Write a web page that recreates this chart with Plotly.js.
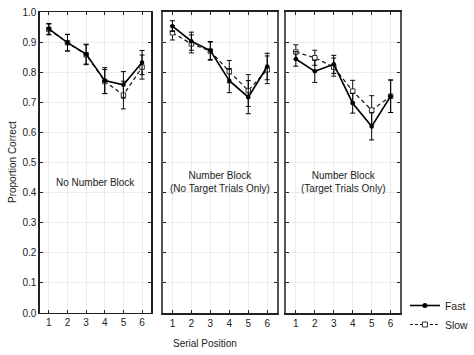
<!DOCTYPE html>
<html>
<head>
<meta charset="utf-8">
<script src="https://cdn.plot.ly/plotly-3.0.1.min.js"></script>
<style>html,body{margin:0;padding:0;background:#fff;}#chart{width:474px;height:355px;}</style>
</head>
<body>
<div id="chart"></div>
<script>
const positions = [1, 2, 3, 4, 5, 6];
const tickLabels = ["1", "2", "3", "4", "5", "6"];
const panelTitles = ["No Number Block", "Number Block<br>(No Target Trials Only)", "Number Block<br>(Target Trials Only)"];

const fastNoNumber = [0.944, 0.898, 0.860, 0.772, 0.758, 0.832];
const fastNoNumberErr = [0.018, 0.027, 0.033, 0.043, 0.044, 0.040];
const slowNoNumber = [0.942, 0.898, 0.858, 0.769, 0.724, 0.817];
const slowNoNumberErr = [0.018, 0.028, 0.033, 0.040, 0.046, 0.040];

const fastNoTarget = [0.953, 0.903, 0.872, 0.772, 0.717, 0.819];
const fastNoTargetErr = [0.018, 0.030, 0.030, 0.040, 0.055, 0.044];
const slowNoTarget = [0.931, 0.894, 0.870, 0.802, 0.739, 0.808];
const slowNoTargetErr = [0.024, 0.030, 0.030, 0.037, 0.053, 0.046];

const fastTarget = [0.844, 0.803, 0.826, 0.697, 0.620, 0.720];
const fastTargetErr = [0.024, 0.037, 0.030, 0.033, 0.045, 0.054];
const slowTarget = [0.867, 0.848, 0.817, 0.737, 0.674, 0.720];
const slowTargetErr = [0.024, 0.025, 0.030, 0.036, 0.048, 0.054];

const fastSeries = [[fastNoNumber, fastNoNumberErr], [fastNoTarget, fastNoTargetErr], [fastTarget, fastTargetErr]];
const slowSeries = [[slowNoNumber, slowNoNumberErr], [slowNoTarget, slowNoTargetErr], [slowTarget, slowTargetErr]];

const W = 474, H = 355;
const panelPx = [[41, 157], [169, 287], [297, 415]];
const topPx = 12, botPx = 313;
const yDom = [(H - botPx) / H, (H - topPx) / H];
const FONT = "Liberation Sans, Arial, sans-serif";
const txt = "#222";

const traces = [];
const layout = {
  width: W, height: H,
  margin: {l: 0, r: 0, t: 0, b: 0},
  paper_bgcolor: "#fff", plot_bgcolor: "#fff",
  font: {family: FONT, size: 10, color: txt},
  showlegend: true,
  legend: {x: 420 / W, y: (H - 291) / H, xanchor: "left", yanchor: "top",
           font: {family: FONT, size: 10.5, color: txt}, bgcolor: "rgba(0,0,0,0)",
           itemwidth: 30, tracegroupgap: 0},
  annotations: [],
  shapes: []
};

for (let p = 0; p < 3; p++) {
  const sfx = p === 0 ? "" : String(p + 1);
  const xa = "x" + sfx, ya = "y" + sfx;
  const [fy, fe] = fastSeries[p];
  const [sy, se] = slowSeries[p];
  traces.push({
    x: positions, y: sy, xaxis: xa, yaxis: ya, type: "scatter", mode: "lines+markers",
    name: "Slow", showlegend: false, legendgroup: "slow",
    line: {color: "#111", width: 1.2, dash: "4px,3px"},
    marker: {symbol: "square", size: 4.5, color: "#fff", line: {color: "#333", width: 1}},
    error_y: {type: "data", array: se, visible: true, color: "#111", thickness: 1, width: 2.5}
  });
  traces.push({
    x: positions, y: fy, xaxis: xa, yaxis: ya, type: "scatter", mode: "lines+markers",
    name: "Fast", showlegend: false, legendgroup: "fast",
    line: {color: "#000", width: 1.6},
    marker: {symbol: "circle", size: 4.5, color: "#000"},
    error_y: {type: "data", array: fe, visible: true, color: "#000", thickness: 1, width: 2.5}
  });
  layout["xaxis" + sfx] = {
    domain: [panelPx[p][0] / W, panelPx[p][1] / W], anchor: ya,
    range: [0.5, 6.5], tickvals: positions, ticktext: tickLabels,
    showgrid: true, gridcolor: "#ececec", gridwidth: 1, zeroline: false,
    showline: true, linecolor: "#222", linewidth: p === 0 ? 1.2 : 1.6, mirror: "ticks",
    ticks: "inside", ticklen: 3, tickcolor: "#222",
    tickfont: {family: FONT, size: 10, color: txt}, fixedrange: true
  };
  layout["yaxis" + sfx] = {
    domain: yDom, anchor: xa, range: [0, 1],
    tickvals: [0, 0.1, 0.2, 0.3, 0.4, 0.5, 0.6, 0.7, 0.8, 0.9, 1.0],
    tickformat: ".1f", showticklabels: p === 0,
    showgrid: true, gridcolor: "#ececec", gridwidth: 1, zeroline: false,
    showline: true, linecolor: p === 0 ? "#222" : "#555", linewidth: p === 0 ? 1.2 : 2, mirror: "ticks",
    ticks: "inside", ticklen: 3, tickcolor: "#222",
    tickfont: {family: FONT, size: 10, color: txt}, fixedrange: true
  };
  layout.annotations.push({
    xref: xa, yref: ya, x: 3.5, y: 0.435, text: panelTitles[p], showarrow: false,
    xanchor: "center", yanchor: "middle", align: "center",
    font: {family: FONT, size: 10, color: txt}
  });
}

// legend entries (legend-only pair of traces)
traces.push({x: [null], y: [null], type: "scatter", mode: "lines+markers", name: "Fast",
  legendgroup: "fast", line: {color: "#000", width: 1.6}, marker: {symbol: "circle", size: 5, color: "#000"}});
traces.push({x: [null], y: [null], type: "scatter", mode: "lines+markers", name: "Slow",
  legendgroup: "slow", line: {color: "#111", width: 1.2, dash: "3px,2px"},
  marker: {symbol: "square", size: 5, color: "#fff", line: {color: "#333", width: 1}}});

layout.annotations.push({
  xref: "paper", yref: "paper", x: 13 / W, y: (H - (topPx + botPx) / 2) / H,
  text: "Proportion Correct", textangle: -90, showarrow: false,
  xanchor: "center", yanchor: "middle", font: {family: FONT, size: 10, color: txt}
});
layout.annotations.push({
  xref: "paper", yref: "paper", x: 213 / W, y: (H - 343) / H,
  text: "Serial Position", showarrow: false,
  xanchor: "center", yanchor: "middle", font: {family: FONT, size: 10, color: txt}
});

Plotly.newPlot("chart", traces, layout, {staticPlot: true, displayModeBar: false});
</script>
</body>
</html>
